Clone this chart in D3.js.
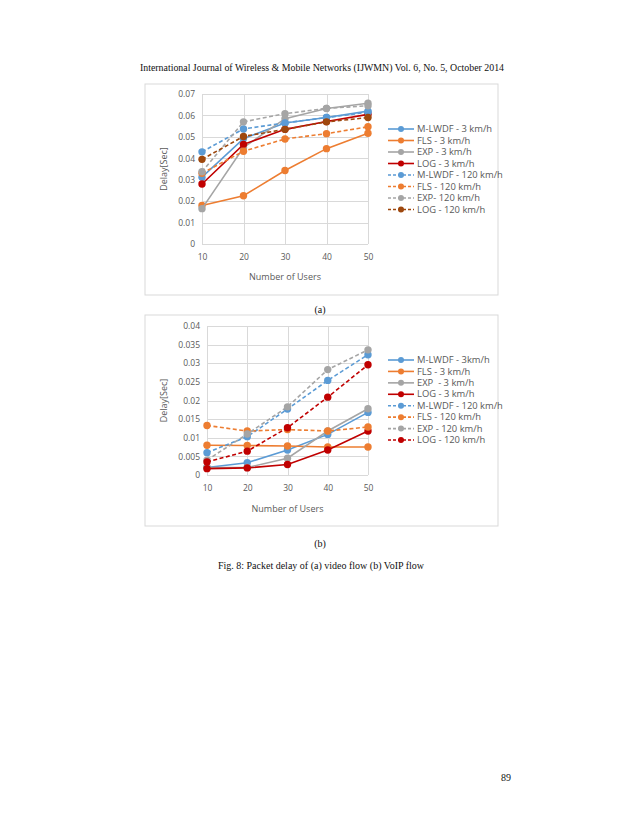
<!DOCTYPE html>
<html><head><meta charset="utf-8">
<script src="https://cdn.jsdelivr.net/npm/d3@7"></script>
<style>body{margin:0;background:#fff}svg{display:block}</style>
</head><body>
<script>
const users = [10, 20, 30, 40, 50];

// Chart (a): video flow
const seriesNamesA = ["M-LWDF - 3 km/h","FLS - 3 km/h","EXP - 3 km/h","LOG - 3 km/h","M-LWDF - 120 km/h","FLS - 120 km/h","EXP- 120 km/h","LOG - 120 km/h"];
const mlwdf3A  = [0.0312, 0.0492, 0.0565, 0.0590, 0.0620];
const fls3A    = [0.0180, 0.0225, 0.0343, 0.0445, 0.0517];
const exp3A    = [0.0165, 0.0450, 0.0585, 0.0632, 0.0657];
const log3A    = [0.0280, 0.0465, 0.0535, 0.0572, 0.0605];
const mlwdf120A= [0.0430, 0.0537, 0.0565, 0.0590, 0.0615];
const fls120A  = [0.0330, 0.0433, 0.0490, 0.0515, 0.0547];
const exp120A  = [0.0337, 0.0570, 0.0608, 0.0633, 0.0645];
const log120A  = [0.0395, 0.0502, 0.0535, 0.0570, 0.0590];
const yTicksA = [0, 0.01, 0.02, 0.03, 0.04, 0.05, 0.06, 0.07];

// Chart (b): VoIP flow
const seriesNamesB = ["M-LWDF - 3km/h","FLS - 3 km/h","EXP  - 3 km/h","LOG - 3 km/h","M-LWDF - 120 km/h","FLS - 120 km/h","EXP - 120 km/h","LOG - 120 km/h"];
const mlwdf3B  = [0.0020, 0.0033, 0.0067, 0.0109, 0.0168];
const fls3B    = [0.0080, 0.0079, 0.0078, 0.0075, 0.0075];
const exp3B    = [0.0020, 0.0020, 0.0045, 0.0118, 0.0178];
const log3B    = [0.0017, 0.0019, 0.0028, 0.0067, 0.0118];
const mlwdf120B= [0.0060, 0.0103, 0.0177, 0.0254, 0.0323];
const fls120B  = [0.0133, 0.0118, 0.0122, 0.0118, 0.0129];
const exp120B  = [0.0040, 0.0110, 0.0183, 0.0283, 0.0336];
const log120B  = [0.0035, 0.0064, 0.0127, 0.0209, 0.0296];
const yTicksB = [0, 0.005, 0.01, 0.015, 0.02, 0.025, 0.03, 0.035, 0.04];

const W = 638, H = 826;
const svg = d3.select("body").append("svg").attr("width", W).attr("height", H);

const serif = "'Liberation Serif', 'Times New Roman', serif";
const sans = "'Open Sans', 'Noto Sans', sans-serif";

svg.append("text").attr("x", 322).attr("y", 71).attr("text-anchor", "middle")
  .attr("font-family", serif).attr("font-size", 9.9).attr("fill", "#111")
  .text("International Journal of Wireless & Mobile Networks (IJWMN) Vol. 6, No. 5, October 2014");

function drawChart(cfg) {
  const g = svg.append("g");
  g.append("rect").attr("x", cfg.box[0]).attr("y", cfg.box[1])
    .attr("width", cfg.box[2]-cfg.box[0]).attr("height", cfg.box[3]-cfg.box[1])
    .attr("fill", "#fff").attr("stroke", "#d9d9d9").attr("stroke-width", 1);

  const x = d3.scalePoint().domain(users).range([cfg.x0, cfg.x1]);
  const y = d3.scaleLinear().domain([0, cfg.ymax]).range([cfg.y0, cfg.y1]);

  // gridlines
  g.append("g").selectAll("line.h").data(cfg.yTicks).join("line")
    .attr("x1", cfg.x0).attr("x2", cfg.x1)
    .attr("y1", d => Math.round(y(d))+0.5).attr("y2", d => Math.round(y(d))+0.5)
    .attr("stroke", "#d9d9d9").attr("stroke-width", 1);
  g.append("g").selectAll("line.v").data(users).join("line")
    .attr("x1", d => Math.round(x(d))+0.5).attr("x2", d => Math.round(x(d))+0.5)
    .attr("y1", cfg.y1).attr("y2", cfg.y0)
    .attr("stroke", "#d9d9d9").attr("stroke-width", 1);

  // axes
  const yAxis = d3.axisLeft(y).tickValues(cfg.yTicks).tickSize(0).tickPadding(7)
    .tickFormat(d => d === 0 ? "0" : String(+d.toFixed(3)));
  const ya = g.append("g").attr("transform", `translate(${cfg.x0},0)`).call(yAxis);
  ya.select(".domain").remove();
  ya.selectAll("text").attr("font-family", sans).attr("font-size", 8.5).attr("fill", "#595959");

  const xAxis = d3.axisBottom(x).tickSize(0).tickPadding(10);
  const xa = g.append("g").attr("transform", `translate(0,${cfg.y0})`).call(xAxis);
  xa.select(".domain").remove();
  xa.selectAll("text").attr("font-family", sans).attr("font-size", 8.5).attr("fill", "#595959");

  g.append("text").attr("x", (cfg.x0+cfg.x1)/2).attr("y", cfg.xTitleY).attr("text-anchor", "middle")
    .attr("font-family", sans).attr("font-size", 9).attr("fill", "#595959").text("Number of Users");
  g.append("text").attr("transform", `translate(${cfg.yTitleX},${(cfg.y0+cfg.y1)/2}) rotate(-90)`)
    .attr("text-anchor", "middle").attr("font-family", sans).attr("font-size", 9).attr("fill", "#595959")
    .text("Delay[Sec]");

  const line = d3.line().x((d, i) => x(users[i])).y(d => y(d));
  cfg.series.forEach(s => {
    g.append("path").datum(s.values).attr("d", line).attr("fill", "none")
      .attr("stroke", s.color).attr("stroke-width", 1.6)
      .attr("stroke-dasharray", s.dash ? "4,2.5" : null);
    g.append("g").selectAll("circle").data(s.values).join("circle")
      .attr("cx", (d, i) => x(users[i])).attr("cy", d => y(d)).attr("r", 3.7)
      .attr("fill", s.color);
  });

  // legend
  const lg = g.append("g");
  cfg.series.forEach((s, i) => {
    const ly = cfg.legY + i * cfg.legStep;
    lg.append("line").attr("x1", 388).attr("x2", 414).attr("y1", ly).attr("y2", ly)
      .attr("stroke", s.color).attr("stroke-width", 1.6)
      .attr("stroke-dasharray", s.dash ? "3,2" : null);
    lg.append("circle").attr("cx", 401).attr("cy", ly).attr("r", 3).attr("fill", s.color);
    lg.append("text").attr("x", 417).attr("y", ly + 3.2).attr("font-family", sans)
      .attr("font-size", 9.4).attr("fill", "#595959").attr("xml:space", "preserve").text(s.name);
  });
}

const colors = ["#5b9bd5", "#ed7d31", "#a5a5a5", "#c00000", "#5b9bd5", "#ed7d31", "#a5a5a5"];

drawChart({
  box: [145, 84, 498, 295],
  x0: 202, x1: 368, y0: 244, y1: 94, ymax: 0.07, yTicks: yTicksA,
  xTitleY: 280, yTitleX: 167, legY: 129, legStep: 11.5,
  series: [mlwdf3A, fls3A, exp3A, log3A, mlwdf120A, fls120A, exp120A, log120A].map((v, i) => ({
    values: v, name: seriesNamesA[i], color: i === 7 ? "#9e480e" : colors[i], dash: i >= 4
  }))
});

drawChart({
  box: [145, 315, 498, 526],
  x0: 207, x1: 368, y0: 475, y1: 326, ymax: 0.04, yTicks: yTicksB,
  xTitleY: 512, yTitleX: 167, legY: 360, legStep: 11.43,
  series: [mlwdf3B, fls3B, exp3B, log3B, mlwdf120B, fls120B, exp120B, log120B].map((v, i) => ({
    values: v, name: seriesNamesB[i], color: i === 7 ? "#c00000" : colors[i], dash: i >= 4
  }))
});

svg.append("text").attr("x", 320).attr("y", 313).attr("text-anchor", "middle")
  .attr("font-family", serif).attr("font-size", 10).attr("fill", "#111").text("(a)");
svg.append("text").attr("x", 320).attr("y", 547).attr("text-anchor", "middle")
  .attr("font-family", serif).attr("font-size", 10).attr("fill", "#111").text("(b)");
svg.append("text").attr("x", 321).attr("y", 569).attr("text-anchor", "middle")
  .attr("font-family", serif).attr("font-size", 10).attr("fill", "#111")
  .text("Fig. 8: Packet delay of (a) video flow (b) VoIP flow");
svg.append("text").attr("x", 511).attr("y", 781).attr("text-anchor", "end")
  .attr("font-family", serif).attr("font-size", 10).attr("fill", "#111").text("89");
</script>
</body></html>
